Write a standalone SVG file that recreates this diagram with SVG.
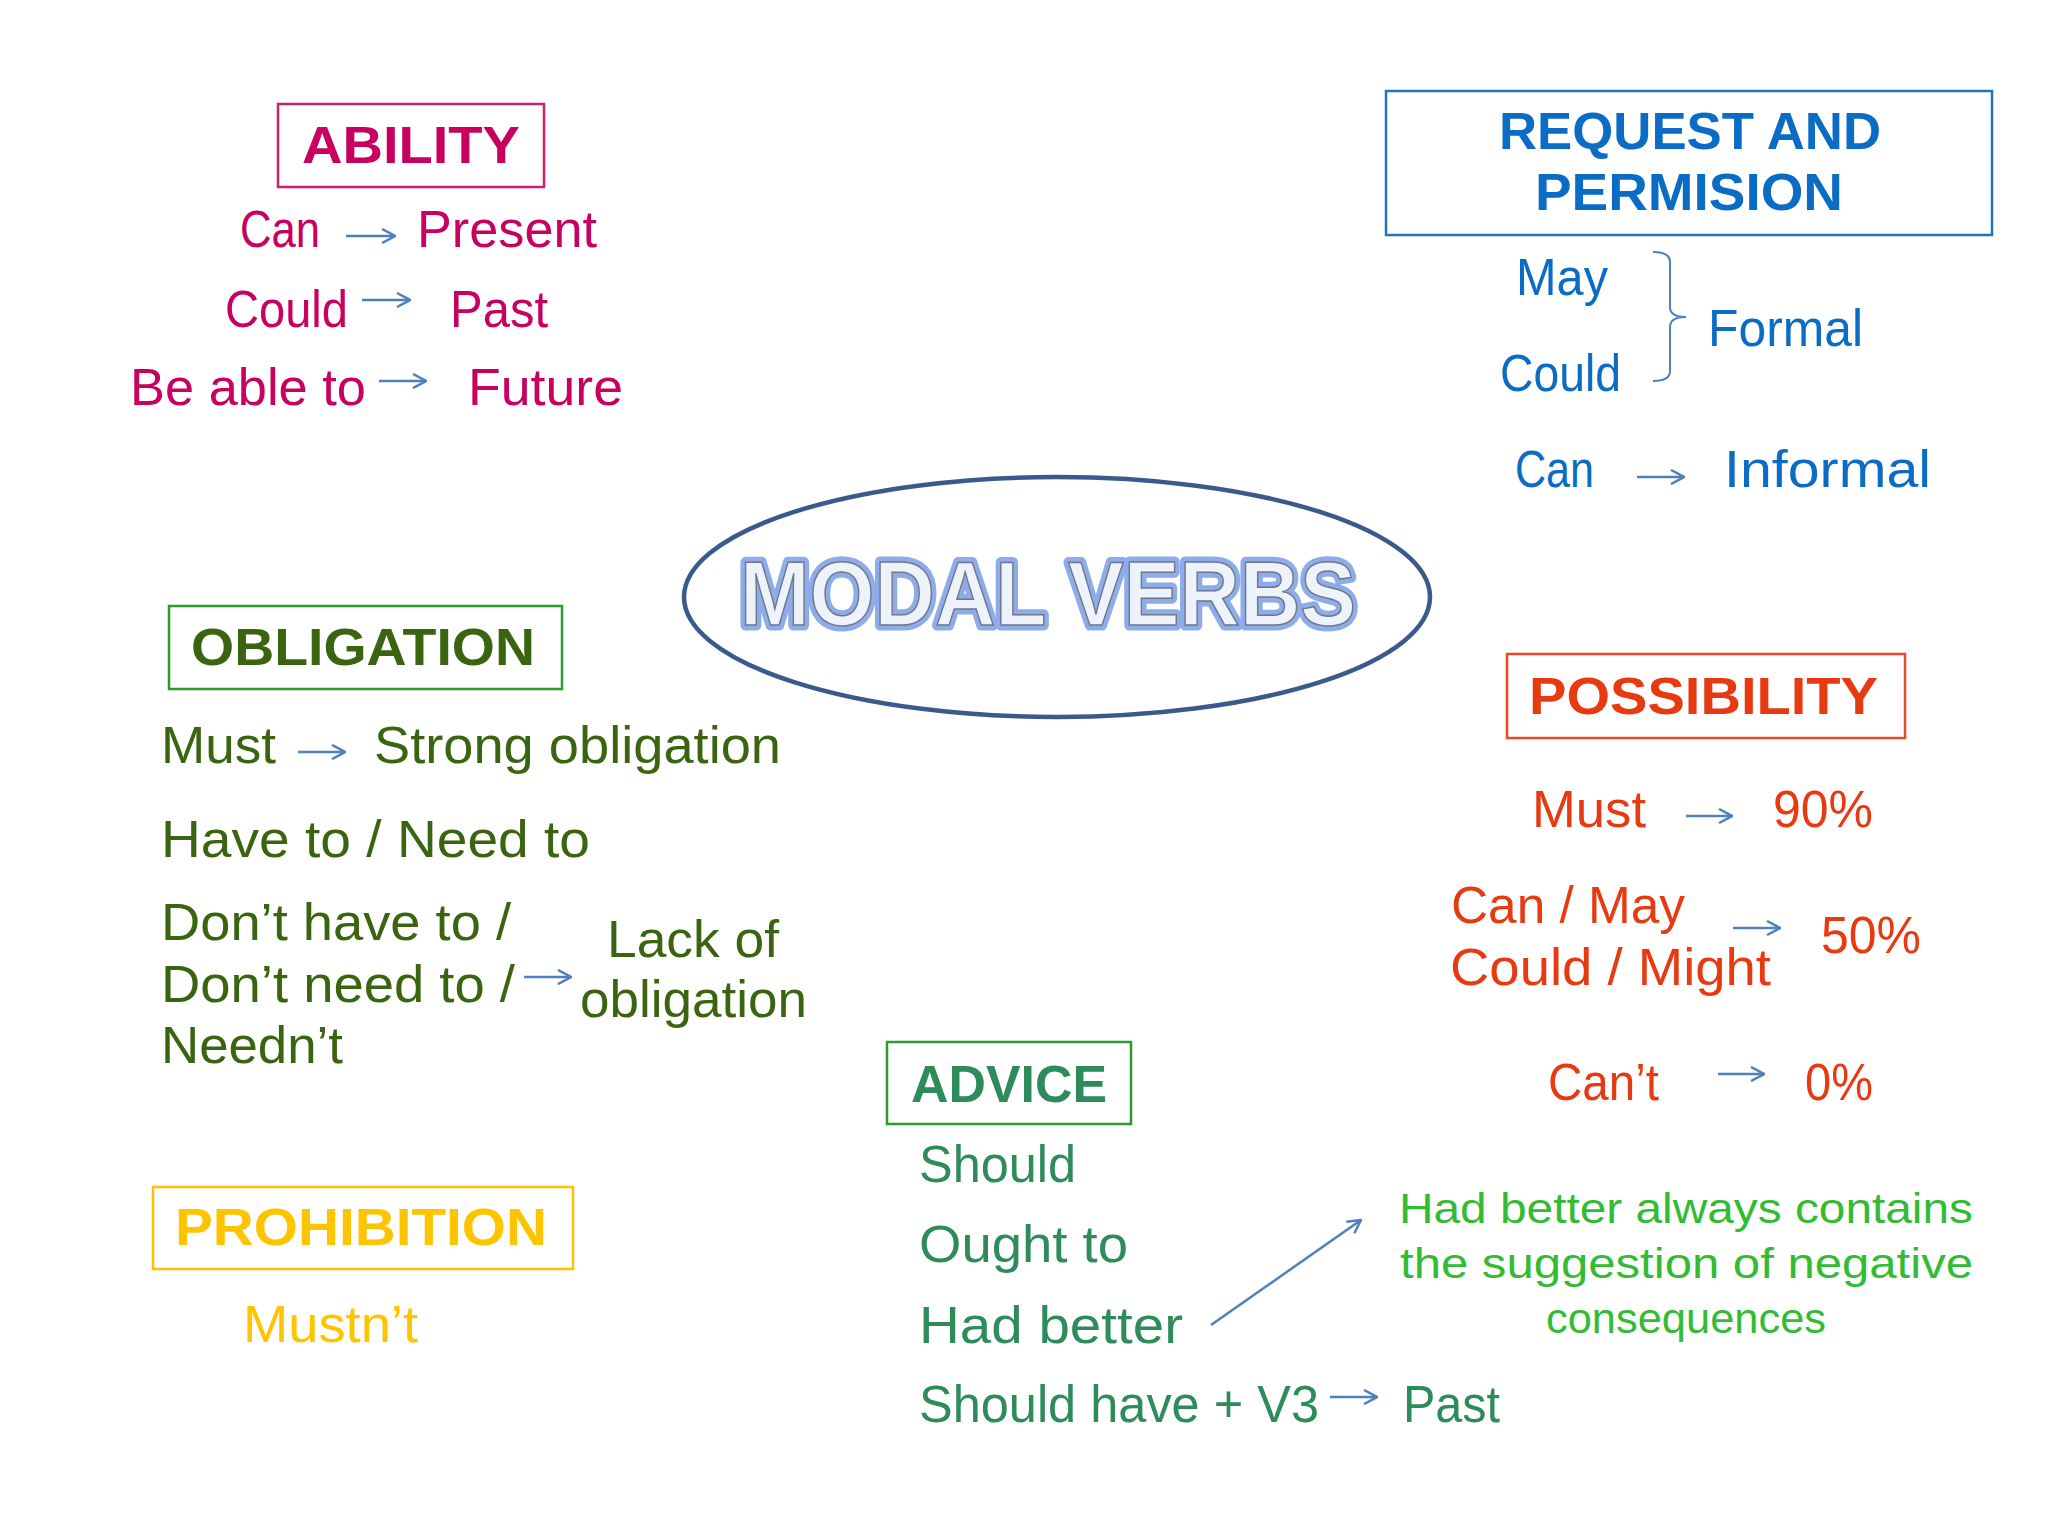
<svg xmlns="http://www.w3.org/2000/svg" width="2048" height="1536" viewBox="0 0 2048 1536">
<style>
text{font-family:"Liberation Sans","Open Sans","DejaVu Sans",sans-serif;}
.h{font-weight:bold;font-size:52px;}
.b{font-size:52px;}
.box{fill:none;stroke-width:2.5;}
.ab{fill:#C8005F;}
.rq{fill:#0A6CC4;}
.ob{fill:#3A6410;}
.po{fill:#E83A10;}
.ad{fill:#2E8B5A;}
.pr{fill:#FFC400;}
.note{fill:#33BB33;font-size:42px;}
.arr{stroke:#4F81BD;stroke-width:2.5;fill:none;marker-end:url(#ah);}
</style>
<defs>
<marker id="ah" viewBox="0 0 16 16" refX="15" refY="8" markerWidth="16" markerHeight="16" markerUnits="userSpaceOnUse" orient="auto">
<path d="M2,1 L15,8 L2,15" fill="none" stroke="#4F81BD" stroke-width="2.5"/>
</marker>
</defs>
<rect width="2048" height="1536" fill="#FFFFFF"/>

<g id="center">
<ellipse cx="1057" cy="597" rx="373" ry="120" fill="none" stroke="#3A5A8C" stroke-width="4.5"/>
<text x="740" y="625" font-size="90" font-weight="bold" textLength="616" lengthAdjust="spacingAndGlyphs" fill="none" stroke="#8EACEA" stroke-width="11" stroke-linejoin="round">MODAL VERBS</text>
<text x="740" y="625" font-size="90" font-weight="bold" textLength="616" lengthAdjust="spacingAndGlyphs" fill="#EEF3FB" stroke="#6E7888" stroke-width="1.5">MODAL VERBS</text>
</g>

<g id="ability">
<rect class="box" x="278" y="104" width="266" height="83" stroke="#D0206A"/>
<text class="h ab" x="302" y="163" textLength="218" lengthAdjust="spacingAndGlyphs">ABILITY</text>
<text class="b ab" x="240" y="247" textLength="80" lengthAdjust="spacingAndGlyphs">Can</text>
<text class="b ab" x="417" y="247" textLength="180" lengthAdjust="spacingAndGlyphs">Present</text>
<text class="b ab" x="225" y="327" textLength="123" lengthAdjust="spacingAndGlyphs">Could</text>
<text class="b ab" x="450" y="327" textLength="98" lengthAdjust="spacingAndGlyphs">Past</text>
<text class="b ab" x="130" y="405" textLength="236" lengthAdjust="spacingAndGlyphs">Be able to</text>
<text class="b ab" x="468" y="405" textLength="155" lengthAdjust="spacingAndGlyphs">Future</text>
</g>

<g id="request">
<rect class="box" x="1386" y="91" width="606" height="144" stroke="#1F74C4"/>
<text class="h rq" x="1499" y="149" textLength="382" lengthAdjust="spacingAndGlyphs">REQUEST  AND</text>
<text class="h rq" x="1535" y="210" textLength="308" lengthAdjust="spacingAndGlyphs">PERMISION</text>
<text class="b rq" x="1516" y="295" textLength="92" lengthAdjust="spacingAndGlyphs">May</text>
<text class="b rq" x="1500" y="391" textLength="121" lengthAdjust="spacingAndGlyphs">Could</text>
<text class="b rq" x="1708" y="346" textLength="155" lengthAdjust="spacingAndGlyphs">Formal</text>
<text class="b rq" x="1515" y="487" textLength="79" lengthAdjust="spacingAndGlyphs">Can</text>
<text class="b rq" x="1724" y="487" textLength="207" lengthAdjust="spacingAndGlyphs">Informal</text>
</g>

<g id="obligation">
<rect class="box" x="169" y="606" width="393" height="83" stroke="#2E9A2E"/>
<text class="h ob" x="191" y="665" textLength="344" lengthAdjust="spacingAndGlyphs">OBLIGATION</text>
<text class="b ob" x="161" y="763" textLength="115" lengthAdjust="spacingAndGlyphs">Must</text>
<text class="b ob" x="374" y="763" textLength="407" lengthAdjust="spacingAndGlyphs">Strong obligation</text>
<text class="b ob" x="161" y="857" textLength="429" lengthAdjust="spacingAndGlyphs">Have to / Need to</text>
<text class="b ob" x="161" y="940" textLength="350" lengthAdjust="spacingAndGlyphs">Don’t have to /</text>
<text class="b ob" x="161" y="1002" textLength="354" lengthAdjust="spacingAndGlyphs">Don’t need to /</text>
<text class="b ob" x="161" y="1063" textLength="182" lengthAdjust="spacingAndGlyphs">Needn’t</text>
<text class="b ob" x="607" y="957" textLength="172" lengthAdjust="spacingAndGlyphs">Lack of</text>
<text class="b ob" x="580" y="1017" textLength="227" lengthAdjust="spacingAndGlyphs">obligation</text>
</g>

<g id="possibility">
<rect class="box" x="1507" y="654" width="398" height="84" stroke="#E84A28"/>
<text class="h po" x="1529" y="714" textLength="349" lengthAdjust="spacingAndGlyphs">POSSIBILITY</text>
<text class="b po" x="1532" y="827" textLength="114" lengthAdjust="spacingAndGlyphs">Must</text>
<text class="b po" x="1773" y="827" textLength="100" lengthAdjust="spacingAndGlyphs">90%</text>
<text class="b po" x="1451" y="923" textLength="234" lengthAdjust="spacingAndGlyphs">Can / May</text>
<text class="b po" x="1450" y="985" textLength="321" lengthAdjust="spacingAndGlyphs">Could / Might</text>
<text class="b po" x="1821" y="953" textLength="100" lengthAdjust="spacingAndGlyphs">50%</text>
<text class="b po" x="1548" y="1100" textLength="111" lengthAdjust="spacingAndGlyphs">Can’t</text>
<text class="b po" x="1805" y="1100" textLength="68" lengthAdjust="spacingAndGlyphs">0%</text>
</g>

<g id="advice">
<rect class="box" x="887" y="1042" width="244" height="82" stroke="#2E9A2E"/>
<text class="h ad" x="911" y="1102" textLength="196" lengthAdjust="spacingAndGlyphs">ADVICE</text>
<text class="b ad" x="919" y="1182" textLength="157" lengthAdjust="spacingAndGlyphs">Should</text>
<text class="b ad" x="919" y="1262" textLength="209" lengthAdjust="spacingAndGlyphs">Ought to</text>
<text class="b ad" x="919" y="1343" textLength="264" lengthAdjust="spacingAndGlyphs">Had better</text>
<text class="b ad" x="919" y="1422" textLength="400" lengthAdjust="spacingAndGlyphs">Should have + V3</text>
<text class="b ad" x="1403" y="1422" textLength="97" lengthAdjust="spacingAndGlyphs">Past</text>
<text class="note" x="1399" y="1223" textLength="574" lengthAdjust="spacingAndGlyphs">Had better always contains</text>
<text class="note" x="1400" y="1278" textLength="573" lengthAdjust="spacingAndGlyphs">the  suggestion of negative</text>
<text class="note" x="1546" y="1333" textLength="280" lengthAdjust="spacingAndGlyphs">consequences</text>
</g>

<g id="prohibition">
<rect class="box" x="153" y="1187" width="420" height="82" stroke="#FFC000"/>
<text class="h pr" x="175" y="1245" textLength="372" lengthAdjust="spacingAndGlyphs">PROHIBITION</text>
<text class="b pr" x="243" y="1342" textLength="175" lengthAdjust="spacingAndGlyphs">Mustn’t</text>
</g>

<g id="connectors">
<line class="arr" x1="346" y1="236" x2="395" y2="236"/>
<line class="arr" x1="362" y1="300" x2="410" y2="300"/>
<line class="arr" x1="379" y1="381" x2="426" y2="381"/>
<path d="M1653,252 Q1670,252 1670,262 L1670,307 Q1670,317 1686,317 Q1670,317 1670,327 L1670,371 Q1670,381 1653,381" fill="none" stroke="#4F81BD" stroke-width="2"/>
<line class="arr" x1="1637" y1="477" x2="1684" y2="477"/>
<line class="arr" x1="298" y1="752" x2="345" y2="752"/>
<line class="arr" x1="524" y1="977" x2="571" y2="977"/>
<line class="arr" x1="1686" y1="816" x2="1732" y2="816"/>
<line class="arr" x1="1733" y1="928" x2="1780" y2="928"/>
<line class="arr" x1="1718" y1="1074" x2="1764" y2="1074"/>
<line class="arr" x1="1211" y1="1325" x2="1361" y2="1220"/>
<line class="arr" x1="1330" y1="1397" x2="1377" y2="1397"/>
</g>
</svg>
